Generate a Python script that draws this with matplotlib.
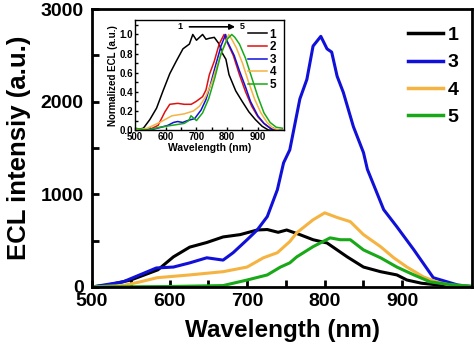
import numpy as np
import matplotlib as mpl
import matplotlib.pyplot as plt
from matplotlib.ticker import MultipleLocator

plt.rcParams['font.family'] = ['Liberation Sans', 'DejaVu Sans']
plt.rcParams['font.weight'] = 'bold'

#### main spectra (ECL intensity, a.u.)
wl_1 = [500, 520, 550, 585, 605, 626, 648, 669, 691, 713, 726, 740, 751, 768, 785, 803, 829, 850, 872, 893, 906, 925, 960, 990]
ecl_1 = [0, 20, 75, 185, 325, 430, 480, 540, 565, 615, 620, 590, 615, 565, 510, 475, 325, 215, 165, 130, 75, 40, 10, 5]

wl_3 = [500, 540, 583, 605, 626, 648, 669, 682, 700, 713, 726, 739, 747, 755, 768, 777, 785, 795, 803, 809, 816, 824, 837, 850, 855, 876, 893, 915, 940, 958, 972, 990]
ecl_3 = [0, 55, 205, 215, 260, 315, 290, 370, 510, 615, 760, 1050, 1340, 1480, 2030, 2240, 2600, 2705, 2570, 2535, 2275, 2100, 1730, 1450, 1270, 835, 650, 400, 100, 55, 20, 5]

wl_4 = [500, 540, 562, 584, 626, 669, 700, 721, 739, 755, 764, 785, 800, 816, 833, 850, 872, 889, 906, 927, 944, 962, 990]
ecl_4 = [0, 15, 55, 100, 130, 165, 215, 315, 370, 490, 585, 725, 800, 750, 705, 565, 435, 315, 215, 110, 55, 20, 5]

wl_5 = [500, 600, 669, 700, 726, 743, 755, 764, 785, 807, 820, 833, 850, 872, 893, 915, 936, 958, 990]
ecl_5 = [0, 5, 15, 75, 130, 215, 260, 325, 435, 530, 510, 510, 400, 315, 215, 130, 55, 30, 5]

#### normalized spectra for the inset
nwl_1 = [500, 527, 548, 570, 591, 613, 634, 656, 677, 688, 700, 710, 720, 731, 742, 758, 774, 785, 796, 806, 828, 849, 871, 892, 914, 935, 970]
norm_1 = [0.0, 0.02, 0.11, 0.23, 0.41, 0.59, 0.72, 0.85, 0.90, 1.0, 0.94, 0.97, 1.0, 0.95, 0.96, 0.97, 0.90, 0.80, 0.74, 0.58, 0.41, 0.30, 0.19, 0.11, 0.04, 0.0, 0.0]

nwl_2 = [500, 550, 575, 597, 613, 639, 660, 683, 699, 720, 731, 742, 758, 774, 790, 800, 820, 840, 860, 880, 900, 920, 940, 960, 980]
norm_2 = [0.0, 0.01, 0.05, 0.19, 0.27, 0.28, 0.27, 0.27, 0.30, 0.35, 0.42, 0.58, 0.72, 0.90, 1.0, 0.92, 0.78, 0.58, 0.40, 0.25, 0.14, 0.07, 0.02, 0.0, 0.0]

nwl_3 = [500, 560, 585, 607, 625, 639, 655, 671, 694, 715, 731, 745, 760, 780, 795, 800, 823, 840, 860, 876, 900, 920, 945, 960, 980]
norm_3 = [0.0, 0.01, 0.03, 0.05, 0.08, 0.09, 0.08, 0.10, 0.12, 0.21, 0.32, 0.47, 0.65, 0.88, 1.0, 0.93, 0.78, 0.62, 0.45, 0.30, 0.15, 0.07, 0.01, 0.0, 0.0]

nwl_4 = [500, 540, 580, 620, 660, 690, 710, 730, 750, 770, 790, 805, 815, 830, 850, 870, 890, 910, 930, 950, 970, 990]
norm_4 = [0.0, 0.02, 0.08, 0.15, 0.17, 0.20, 0.25, 0.35, 0.50, 0.70, 0.88, 1.0, 0.95, 0.86, 0.70, 0.50, 0.32, 0.18, 0.08, 0.02, 0.0, 0.0]

nwl_5 = [500, 540, 580, 620, 660, 675, 682, 700, 720, 740, 760, 780, 800, 815, 825, 840, 860, 880, 900, 920, 940, 960, 980]
norm_5 = [0.02, 0.0, 0.03, 0.05, 0.07, 0.10, 0.15, 0.10, 0.18, 0.33, 0.55, 0.80, 0.95, 1.0, 0.97, 0.90, 0.75, 0.55, 0.35, 0.18, 0.08, 0.03, 0.02]

main_labels = ['1', '3', '4', '5']
inset_labels = ['1', '2', '3', '4', '5']
clr = {'1': '#000000', '2': '#e01010', '3': '#1010d8', '4': '#f5b342', '5': '#18a818'}

#––––––––––––––––––––––––––––––––––––––––––––––––––––––––––––––––––––––––––––––––––––––––––––––––––––––#
fig = plt.figure(figsize=(4.74, 3.47), dpi=100)
ax = fig.add_axes([0.194, 0.173, 0.802, 0.801])

main = [(wl_1, ecl_1), (wl_3, ecl_3), (wl_4, ecl_4), (wl_5, ecl_5)]
for lab, (x, y) in zip(main_labels, main):
    ax.plot(x, y, color=clr[lab], lw=2.2, label=lab)

ax.set_xlim(500, 990)
ax.set_ylim(0, 3000)
ax.xaxis.set_major_locator(MultipleLocator(100))
ax.xaxis.set_minor_locator(MultipleLocator(50))
ax.yaxis.set_major_locator(MultipleLocator(1000))
ax.yaxis.set_minor_locator(MultipleLocator(500))
ax.tick_params(which='both', direction='in', width=2, length=5, labelsize=14)
ax.tick_params(axis='y', pad=6)
ax.tick_params(axis='x', pad=4)
for s in ax.spines.values():
    s.set_linewidth(2)
ax.set_xlabel('Wavelength (nm)', fontsize=17.5, fontweight='bold', labelpad=7)
ax.set_ylabel('ECL intensiy (a.u.)', fontsize=18.5, fontweight='bold', labelpad=7)

leg = ax.legend(loc='upper left', bbox_to_anchor=(0.785, 1.0), frameon=False,
                handlelength=1.8, handletextpad=0.25, labelspacing=0.5,
                prop={'size': 14, 'weight': 'bold'})
for h in leg.get_lines():
    h.set_linewidth(2.5)

#––––––––––––––––––––––––––––––––––––––––––––––––––––––––––––––––––––––––––––––––––––––––––––––––––––––#
ins = fig.add_axes([0.285, 0.625, 0.314, 0.317])
inset = [(nwl_1, norm_1), (nwl_2, norm_2), (nwl_3, norm_3), (nwl_4, norm_4), (nwl_5, norm_5)]
for lab, (x, y) in zip(inset_labels, inset):
    ins.plot(x, y, color=clr[lab], lw=1.1, label=lab)

ins.set_xlim(500, 985)
ins.set_ylim(0, 1.15)
ins.xaxis.set_major_locator(MultipleLocator(100))
ins.xaxis.set_minor_locator(MultipleLocator(50))
ins.yaxis.set_major_locator(MultipleLocator(0.2))
ins.yaxis.set_minor_locator(MultipleLocator(0.1))
ins.yaxis.set_major_formatter(mpl.ticker.FormatStrFormatter('%.1f'))
ins.tick_params(which='both', direction='in', width=1, length=2.5, labelsize=7, pad=1.5)
for s in ins.spines.values():
    s.set_linewidth(1)
ins.set_xlabel('Wavelength (nm)', fontsize=7.5, fontweight='bold', labelpad=0.5)
ins.set_ylabel('Normalized ECL (a.u.)', fontsize=7, fontweight='bold', labelpad=1)

ileg = ins.legend(loc='upper right', bbox_to_anchor=(1.02, 1.02), frameon=False,
                  handlelength=1.6, handletextpad=0.2, labelspacing=0.05,
                  prop={'size': 8.5, 'weight': 'bold'})

ins.annotate('', xy=(835, 1.08), xytext=(668, 1.08),
             arrowprops=dict(arrowstyle='-|>', color='black', lw=1.2, mutation_scale=8))
ins.text(645, 1.08, '1', fontsize=6.5, fontweight='bold', ha='center', va='center')
ins.text(848, 1.08, '5', fontsize=6.5, fontweight='bold', ha='center', va='center')

fig.savefig('out.png', dpi=100)
